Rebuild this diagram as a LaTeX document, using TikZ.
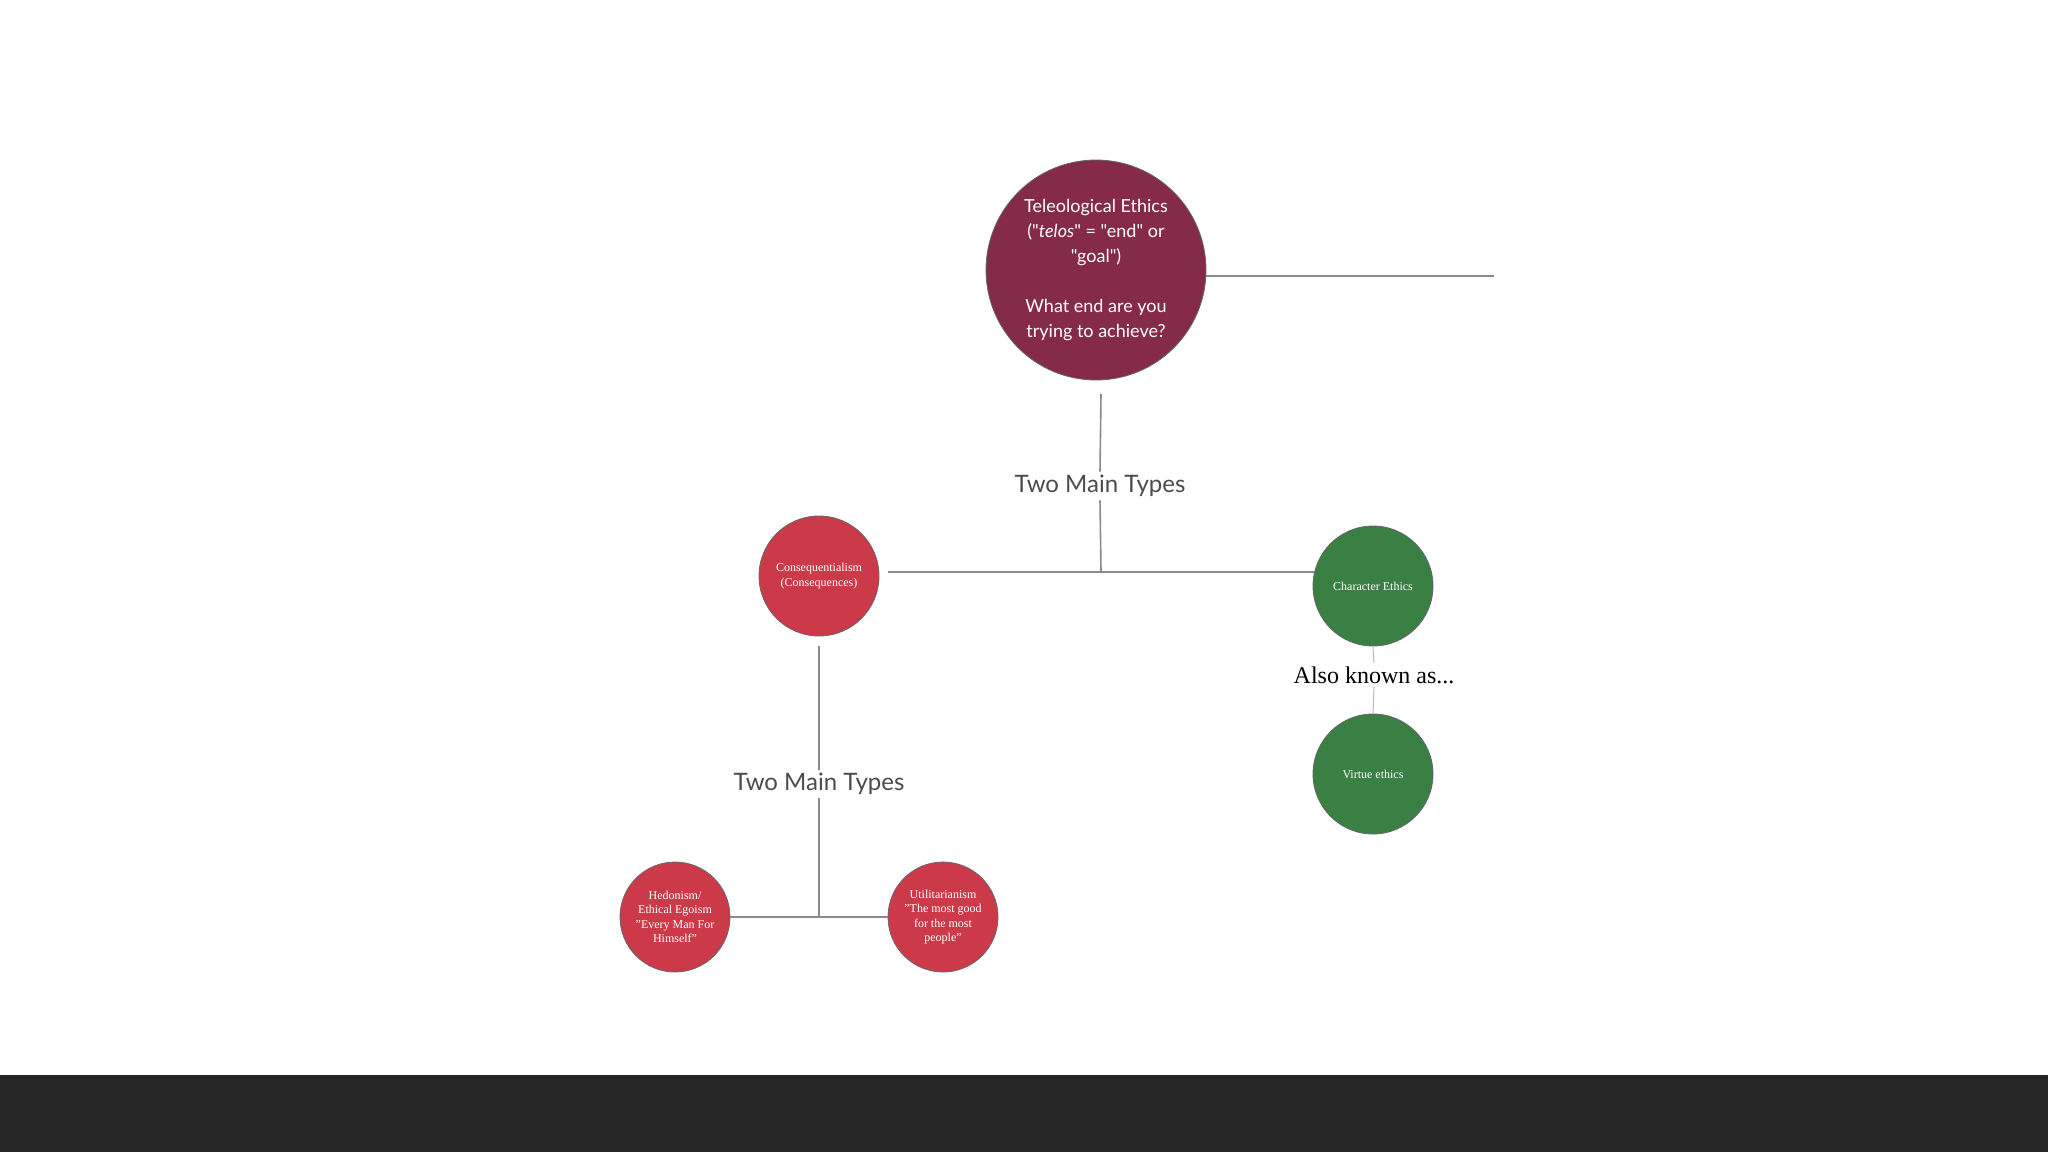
\documentclass[tikz,border=0pt]{standalone}
\usepackage{fontspec}
\setmainfont{Liberation Serif}
\newfontfamily\lato{Lato}
\definecolor{maroon}{HTML}{862A4A}
\definecolor{redc}{HTML}{CC3A4A}
\definecolor{greenc}{HTML}{3A8044}
\definecolor{linec}{HTML}{8A8A8A}
\definecolor{barc}{HTML}{262626}
\begin{document}
\begin{tikzpicture}[x=1pt,y=-1pt,
  circ/.style={circle,draw=black!60,line width=0.8pt,inner sep=0pt,align=center,text=white},
  conn/.style={draw=linec,line width=1.6pt},
  lbl/.style={font=\lato\fontsize{24}{28}\selectfont,text=black!70}]
\useasboundingbox (0,0) rectangle (2048,1152);
\fill[white] (0,0) rectangle (2048,1152);
\fill[barc] (0,1075) rectangle (2048,1152);
\node[circ,fill=maroon,minimum size=220,font=\lato\fontsize{18}{25}\selectfont] (te) at (1096,270)
  {Teleological Ethics\\("\textit{telos}" = "end" or\\"goal")\\[25pt]What end are you\\trying to achieve?};
\coordinate (re) at (1494,276);
\draw[conn] (1206,276) -- (re);
\node[lbl] (t1) at (1100,486) {Two Main Types};
\draw[conn] (1101,394) -- (t1.north);
\coordinate (j1) at (1101,572);
\draw[conn] (t1.south) -- (j1);
\node[circ,fill=redc,minimum size=120,font=\fontsize{12}{15}\selectfont] (cq) at (819,576) {Consequentialism\\(Consequences)};
\node[circ,fill=greenc,minimum size=120,font=\fontsize{12}{15}\selectfont] (ce) at (1373,586) {Character Ethics};
\draw[conn] (888,572) -- (1314,572);
\node[font=\fontsize{24}{28}\selectfont] (ak) at (1374,675) {Also known as...};
\node[circ,fill=greenc,minimum size=120,font=\fontsize{12}{15}\selectfont] (ve) at (1373,774) {Virtue ethics};
\draw[draw=linec!60,line width=1pt] (ce.south) -- (ak.north);
\draw[draw=linec!60,line width=1pt] (ak.south) -- (ve.north);
\node[lbl] (t2) at (819,784) {Two Main Types};
\draw[conn] (819,646) -- (t2.north);
\coordinate (j2) at (819,917);
\draw[conn] (t2.south) -- (j2);
\node[circ,fill=redc,minimum size=110,font=\fontsize{12}{14.5}\selectfont] (he) at (675,917) {Hedonism/\\Ethical Egoism\\"Every Man For\\Himself"};
\node[circ,fill=redc,minimum size=110,font=\fontsize{12}{14.5}\selectfont] (ut) at (943,917) {Utilitarianism\\"The most good\\for the most\\people"};
\draw[conn] (he.east) -- (ut.west);
\end{tikzpicture}
\end{document}
